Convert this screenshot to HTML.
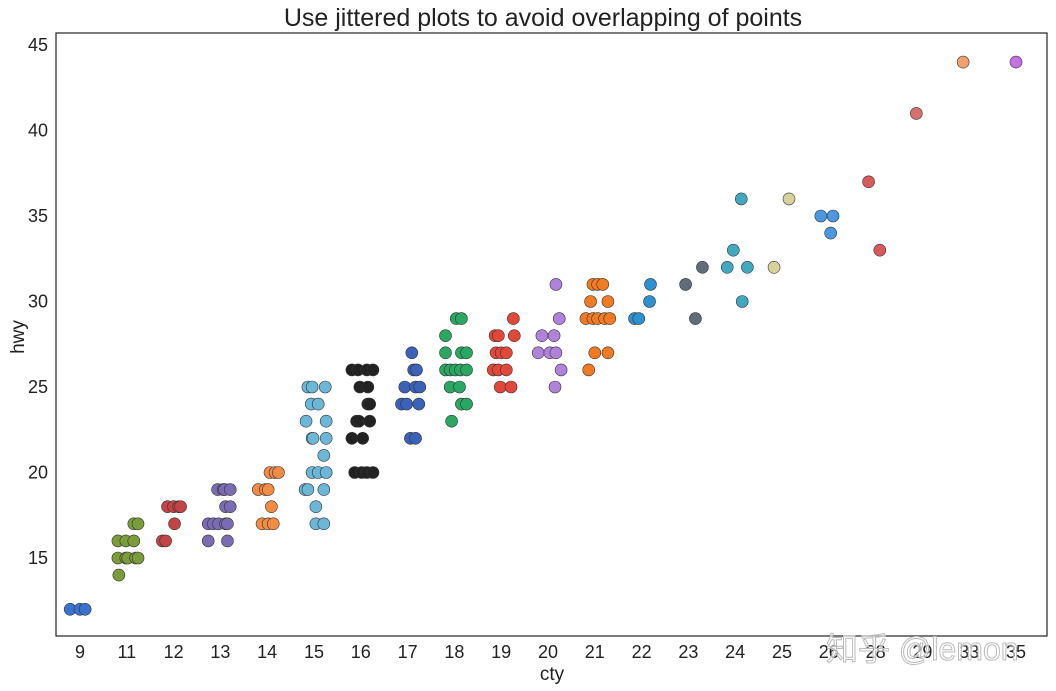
<!DOCTYPE html>
<html><head><meta charset="utf-8"><style>
body{margin:0;background:#fff;}
svg{display:block;font-family:"Liberation Sans","Noto Sans CJK SC",sans-serif;}
</style></head><body>
<svg id="chart" width="1056" height="691">
<rect x="0" y="0" width="1056" height="691" fill="#fff"/>
<text x="543" y="26" text-anchor="middle" font-size="25" fill="#222">Use jittered plots to avoid overlapping of points</text>
<text x="552" y="680" text-anchor="middle" font-size="19" fill="#222">cty</text>
<text x="24" y="337" text-anchor="middle" font-size="19" fill="#222" transform="rotate(-90 24 337)">hwy</text>
<g id="points"></g>
<g id="xticks"></g>
<g id="yticks"></g>
<rect x="56" y="33" width="991" height="603" fill="none" stroke="#222" stroke-width="1.2"/>
<text x="826" y="660" font-size="32" fill="rgba(255,255,255,0.6)" stroke="#bbb" stroke-width="1">知乎 @lemon</text>
</svg>
<script>
const categories = ["9","11","12","13","14","15","16","17","18","19","20","21","22","23","24","25","26","28","29","33","35"];
const colors = ["#3a72d0","#7a9c3a","#c24444","#7a6cb2","#f28b44","#6cb6d8","#222222","#3a62b8","#2aa862","#e2483a","#b082da","#f27a22","#2e90d0","#606c78","#42a8c0","#d8d29a","#4a98e0","#d85a5a","#d87070","#f2a070","#c472e2"];
// per category: [hwy, jitter] pairs
const hwyPoints = [
 [[12,-0.21],[12,0],[12,0.11]],
 [[17,0.15],[17,0.24],[16,-0.19],[16,-0.02],[16,0.15],[15,-0.19],[15,-0.02],[15,0.02],[15,0.19],[15,0.24],[14,-0.17]],
 [[18,-0.13],[18,0],[18,0.11],[18,0.15],[17,0.02],[16,-0.24],[16,-0.17]],
 [[19,-0.06],[19,0.06],[19,0.09],[19,0.21],[18,0.11],[18,0.21],[17,-0.26],[17,-0.15],[17,-0.04],[17,0.11],[17,0.15],[16,-0.26],[16,0.15]],
 [[20,0.06],[20,0.17],[20,0.24],[19,-0.19],[19,-0.04],[19,0.02],[18,0.09],[17,-0.11],[17,0.02],[17,0.13]],
 [[25,-0.13],[25,-0.04],[25,0.24],[24,-0.06],[24,0.09],[23,-0.17],[23,0.26],[22,-0.04],[22,-0.02],[22,0.26],[21,0.21],[20,-0.04],[20,0.09],[20,0.26],[19,-0.19],[19,-0.13],[19,0.21],[18,0.04],[17,0.04],[17,0.21]],
 [[26,-0.19],[26,-0.06],[26,0.13],[26,0.26],[25,-0.02],[25,0.15],[24,0.15],[24,0.19],[23,-0.09],[23,-0.04],[23,0.19],[22,-0.19],[22,0.04],[20,-0.13],[20,0.02],[20,0.13],[20,0.26]],
 [[27,0.09],[26,0.13],[26,0.19],[25,-0.06],[25,0.17],[25,0.26],[24,-0.13],[24,-0.02],[24,0.24],[22,0.06],[22,0.17]],
 [[29,0.04],[29,0.15],[28,-0.19],[27,-0.19],[27,0.15],[27,0.26],[26,-0.19],[26,-0.09],[26,0.02],[26,0.13],[26,0.26],[25,-0.09],[25,0.11],[24,0.15],[24,0.26],[23,-0.06]],
 [[29,0.26],[28,-0.13],[28,-0.06],[28,0.28],[27,-0.11],[27,0],[27,0.11],[26,-0.17],[26,-0.06],[26,0.11],[25,-0.02],[25,0.21]],
 [[31,0.17],[29,0.24],[28,-0.13],[28,0.13],[27,-0.21],[27,0.04],[27,0.17],[26,0.28],[25,0.15]],
 [[31,-0.04],[31,0.06],[31,0.17],[30,-0.09],[30,0.28],[29,-0.19],[29,-0.04],[29,0.06],[29,0.21],[29,0.32],[27,0],[27,0.28],[26,-0.13]],
 [[31,0.19],[30,0.17],[29,-0.15],[29,-0.06]],
 [[32,0.3],[31,-0.06],[29,0.15]],
 [[36,0.13],[33,-0.04],[32,-0.17],[32,0.26],[30,0.15]],
 [[36,0.15],[32,-0.17]],
 [[35,-0.17],[35,0.09],[34,0.04]],
 [[37,-0.15],[33,0.09]],
 [[41,-0.13]],
 [[44,-0.13]],
 [[44,0]]
];
const yTicks = [15,20,25,30,35,40,45];

const NS = "http://www.w3.org/2000/svg";
const x0 = 80, step = 46.8;
function xScale(i){ return x0 + i*step; }
function yScale(v){ return 558 - (v-15)*17.1; }

const pg = document.getElementById('points');
hwyPoints.forEach((pts, ci) => {
  pts.forEach(p => {
    const c = document.createElementNS(NS,'circle');
    c.setAttribute('cx', xScale(ci + p[1]));
    c.setAttribute('cy', yScale(p[0]));
    c.setAttribute('r', 6.0);
    c.setAttribute('fill', colors[ci]);
    c.setAttribute('stroke', '#333');
    c.setAttribute('stroke-width', '0.6');
    
    
    pg.appendChild(c);
  });
});
const xg = document.getElementById('xticks');
categories.forEach((cat, i) => {
  const t = document.createElementNS(NS,'text');
  t.setAttribute('x', xScale(i));
  t.setAttribute('y', 658);
  t.setAttribute('text-anchor','middle');
  t.setAttribute('font-size','18');
  t.setAttribute('fill','#222');
  t.textContent = cat;
  
  
  xg.appendChild(t);
});
const yg = document.getElementById('yticks');
yTicks.forEach(v => {
  const t = document.createElementNS(NS,'text');
  t.setAttribute('x', 48);
  t.setAttribute('y', yScale(v) + 6);
  t.setAttribute('text-anchor','end');
  t.setAttribute('font-size','18');
  t.setAttribute('fill','#222');
  t.textContent = v;
  
  
  yg.appendChild(t);
});
</script>
</body></html>
